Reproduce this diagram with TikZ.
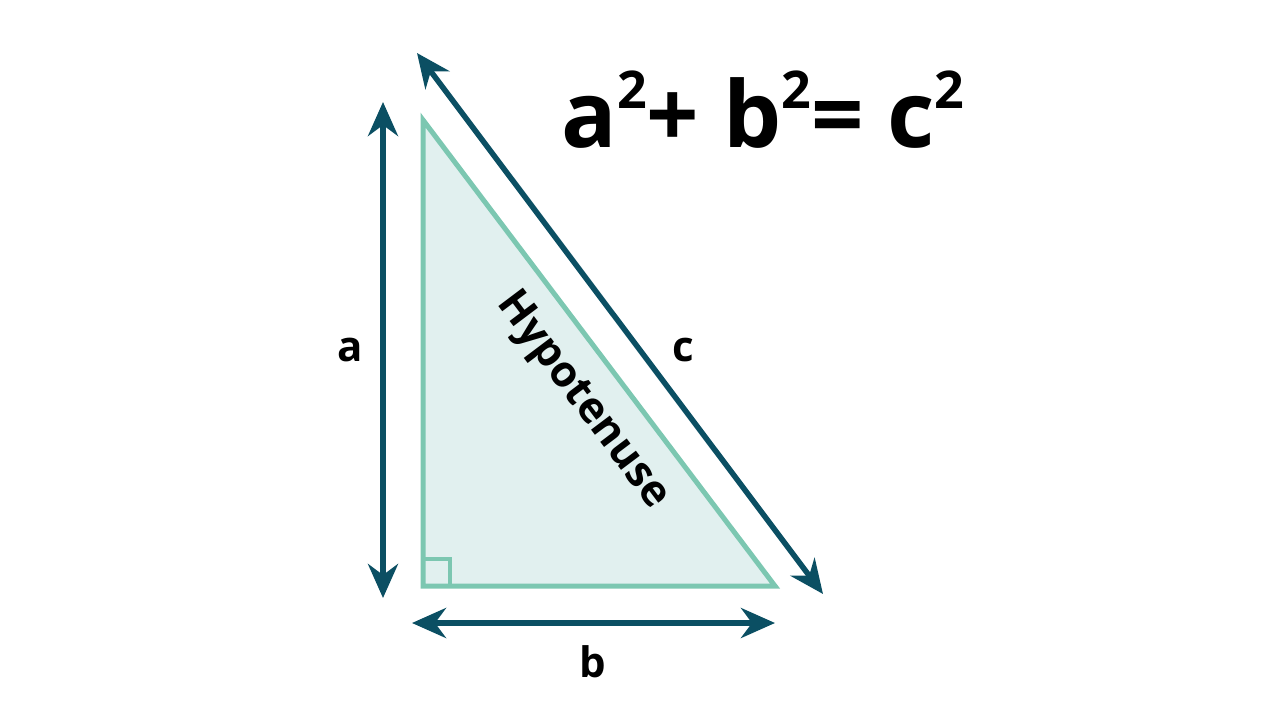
\documentclass[tikz,border=0pt]{standalone}
\usepackage{fontspec}
\setmainfont{Open Sans}
\usetikzlibrary{arrows.meta}
\definecolor{dark}{HTML}{0B4F63}
\definecolor{tri}{HTML}{7CC7B1}
\definecolor{trifill}{HTML}{E1F0EF}
\newcommand{\sq}{\raisebox{0.42em}{\fontsize{52}{52}\selectfont 2}}
\tikzset{
  dimarrow/.style={draw=dark, line width=5.5pt, {Stealth[length=34pt,width=30pt,inset=11pt]}-{Stealth[length=34pt,width=30pt,inset=11pt]}},
  lbl/.style={font=\bfseries\fontsize{42}{46}\selectfont, text=black, inner sep=0pt},
}
\begin{document}
\begin{tikzpicture}[x=1pt,y=-1pt]
\useasboundingbox (0,0) rectangle (1280,720);
% triangle
\coordinate (A) at (423,120);
\coordinate (B) at (423,586);
\coordinate (C) at (775,586);
\draw[tri, fill=trifill, line width=5pt, line join=miter] (A) -- (B) -- (C) -- cycle;
\draw[tri, line width=4pt] (423,559) -- (450,559) -- (450,586);
% arrows
\coordinate (a1) at (383,102);
\coordinate (a2) at (383,598);
\coordinate (b1) at (412,623);
\coordinate (b2) at (775,623);
\coordinate (c1) at (417,53);
\coordinate (c2) at (823,594);
\draw[dimarrow] (a1) -- (a2);
\draw[dimarrow] (b1) -- (b2);
\draw[dimarrow] (c1) -- (c2);
% labels
\node[lbl] (la) at (350,350) {a};
\node[lbl] (lb) at (593,662) {b};
\node[lbl] (lc) at (683,350) {c};
\node[lbl, rotate=-53, font=\bfseries\fontsize{43}{47}\selectfont] (hyp) at (582,401) {Hypotenuse};
\node[inner sep=0pt, font=\bfseries\fontsize{92}{96}\selectfont, anchor=base] (eq) at (763,147)
  {a\sq+ b\sq= c\sq};
\end{tikzpicture}
\end{document}
